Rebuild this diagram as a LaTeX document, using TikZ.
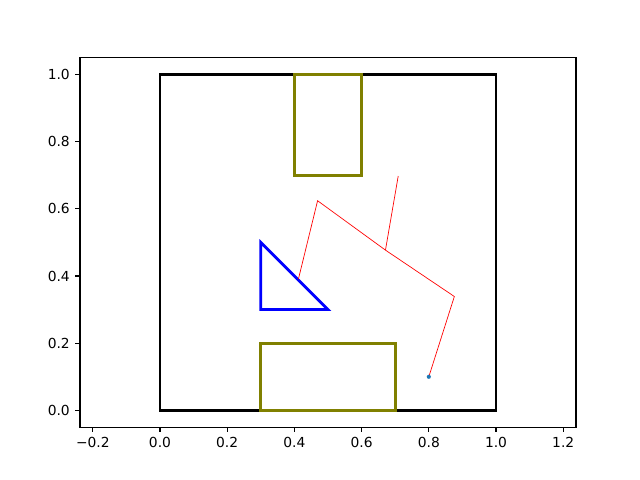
\documentclass[tikz,border=0pt]{standalone}
\usepackage{fontspec}
\setmainfont{DejaVu Sans}
\usetikzlibrary{positioning}
\definecolor{olivec}{HTML}{808000}
\definecolor{tabblue}{HTML}{1F77B4}

\begin{document}
\begin{tikzpicture}[x=8.5344cm,y=8.5344cm]
    \tikzstyle{every node}+=[inner sep=0pt, font=\fontsize{10}{12}\selectfont]
    \tikzstyle{wall}=[black, line width=2pt]
    \tikzstyle{obst}=[olivec, line width=2pt]
    \tikzstyle{tree}=[red, line width=0.5pt]
    \useasboundingbox (-0.47619,-0.207143) rectangle (1.428571,1.221429);
    % axes and ticks
    \draw [black, line width=0.8pt] (-0.238095,-0.05) rectangle (1.238095,1.05);
    \foreach \x/\lab in {-0.2/−0.2,0.0/0.0,0.2/0.2,0.4/0.4,0.6/0.6,0.8/0.8,1.0/1.0,1.2/1.2}
        \draw [black, line width=0.8pt] (\x,-0.05) -- ++(0,-3.5pt) node [below=3.5pt] {\lab};
    \foreach \y/\lab in {0.0/0.0,0.2/0.2,0.4/0.4,0.6/0.6,0.8/0.8,1.0/1.0}
        \draw [black, line width=0.8pt] (-0.238095,\y) -- ++(-3.5pt,0) node [left=3.5pt] {\lab};
    % workspace and obstacles
    \draw [wall] (0,0) rectangle (1,1);
    \draw [obst] (0.4,0.7) rectangle (0.6,1.0);
    \draw [obst] (0.3,0.0) rectangle (0.7,0.2);
    \draw [blue, line width=2pt] (0.3,0.5) -- (0.3,0.3) -- (0.5,0.3) -- cycle;
    % tree
    \coordinate (start) at (0.8,0.1);
    \coordinate (q1) at (0.876,0.339);
    \coordinate (q2) at (0.671,0.477);
    \coordinate (q3) at (0.709,0.6976);
    \coordinate (q4) at (0.469,0.624);
    \coordinate (q5) at (0.412,0.391);
    \draw [tree] (start) -- (q1) -- (q2) -- (q4) -- (q5);
    \draw [tree] (q2) -- (q3);
    \fill [tabblue] (start) circle (1.5pt);
\end{tikzpicture}
\end{document}
